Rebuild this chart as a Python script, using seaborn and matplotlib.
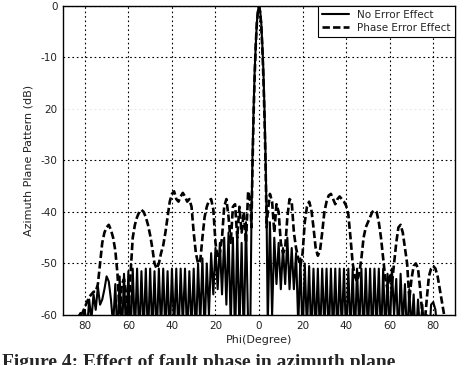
import numpy as np
import pandas as pd
import seaborn as sns
import matplotlib.pyplot as plt

# angle grid: 1 deg steps in the sidelobes, 0.5 deg across the main beam
phi_left = list(range(-90, -4))
phi_beam = [-4, -3.5, -3, -2.5, -2, -1.5, -1, -0.5, 0, 0.5, 1, 1.5, 2, 2.5, 3, 3.5, 4]
phi_right = list(range(5, 91))

# No Error Effect (dB)
no_err_left = [-75, -72, -70, -68, -66, -64, -62, -60.3, -59.6, -61,
               -59, -63, -57, -61, -56, -59, -54.5, -58, -57, -55,
               -52.5, -53.5, -57, -62, -54, -65, -52.5, -65, -52, -65,
               -51.5, -65, -51, -64, -51, -65, -51.5, -64, -51, -65,
               -51, -64, -51.5, -65, -51, -63, -51, -64, -51.5, -65,
               -51, -63, -51, -65, -51, -62, -51, -65, -51.5, -63,
               -51, -65, -50, -62, -49, -64, -50, -60, -48, -56,
               -47, -55, -46, -56, -45, -58, -44, -62, -45, -65,
               -44, -63, -46, -65, -42, -62]
no_err_beam = [-62, -42, -29, -20, -12.5, -7.5, -3.2, -0.9, 0, -0.9,
               -3.2, -7.5, -12.5, -20, -29, -42, -62]
no_err_right = [-42, -60, -45, -54, -46, -55, -47, -54, -45, -55,
                -47, -55, -48, -62, -49, -65, -50, -63, -50.5, -65,
                -51, -64, -51, -65, -51, -63, -51, -65, -51, -64,
                -51, -65, -51, -63, -51, -65, -51, -64, -51, -65,
                -51, -63, -51, -65, -51, -64, -51, -65, -51, -63,
                -51, -65, -51, -64, -52, -65, -51, -60, -53, -65,
                -52, -62, -54, -65, -55, -63, -56, -65, -57, -64,
                -58, -65, -60, -66, -58, -57.5, -59, -64, -66, -68,
                -70, -72, -74, -75, -76, -78]

# Phase Error Effect (dB)
ph_err_left = [-75, -72, -70, -68, -66, -64, -62, -61, -60, -59.5,
               -58.5, -57.5, -56.5, -56, -55.5, -55.5, -54, -50, -46, -44,
               -43, -42.5, -43.5, -45, -47.5, -52, -60, -54, -53, -56,
               -60, -52, -45, -42.5, -41, -40, -39.6, -40, -41, -42.5,
               -44.5, -47, -50, -51, -50, -48, -46.5, -44, -41, -38,
               -36.5, -36, -37.5, -38, -37, -36.3, -37, -38, -37.5, -39,
               -44, -48, -50, -49.5, -45, -41, -39, -37.8, -37.5, -39.5,
               -46, -49, -48, -45, -39, -37.5, -41, -46, -39, -38.5,
               -45, -39, -44, -40, -46, -36]
ph_err_beam = [-38, -43, -31, -21, -13.5, -7.5, -3.3, -1, -0.2, -1.2,
               -3.6, -8, -14, -21.5, -31, -43, -40]
ph_err_right = [-36.5, -38, -44, -38.5, -40, -46, -48, -47, -41, -37.5,
                -38, -44, -47, -49, -50.5, -48, -42, -39, -38, -39.5,
                -43, -47, -48.5, -47.5, -44, -40, -38, -36.8, -36.5, -37.5,
                -38.5, -37.5, -37, -37.5, -38, -38.8, -40.5, -45, -50, -52.5,
                -53.5, -52, -49, -45, -43, -42, -41, -40, -39.7, -40,
                -42, -45, -49, -53, -55, -52, -54, -50, -46, -43,
                -42.5, -44, -47, -50, -57, -53, -50.5, -50, -51, -55,
                -60, -62, -57, -52.5, -51, -50.5, -51, -52.5, -55, -57.5,
                -60, -62, -64, -66, -68, -70]

phi = phi_left + phi_beam + phi_right
df = pd.DataFrame({
    "phi": phi,
    "no_err": no_err_left + no_err_beam + no_err_right,
    "ph_err": ph_err_left + ph_err_beam + ph_err_right,
})

xticks = [-80, -60, -40, -20, 0, 20, 40, 60, 80]
xlabels = ["80", "60", "40", "20", "0", "20", "40", "60", "80"]
yticks = [0, -10, -20, -30, -40, -50, -60]
ylabels = ["0", "-10", "20", "-30", "-40", "-50", "-60"]

sns.set_style("white")
plt.rcParams["font.family"] = ["DejaVu Sans"]

fig = plt.figure(figsize=(4.74, 3.65), dpi=100)
ax = fig.add_axes([0.133, 0.137, 0.827, 0.847])

sns.lineplot(data=df, x="phi", y="no_err", ax=ax, color="black", lw=1.5,
             label="No Error Effect", sort=False)
sns.lineplot(data=df, x="phi", y="ph_err", ax=ax, color="black", lw=1.9,
             label="Phase Error Effect", sort=False)
ax.lines[1].set_dashes([2.8, 1.2])

ax.set_xlim(-90, 90)
ax.set_ylim(-60, 0)
ax.set_xticks(xticks)
ax.set_xticklabels(xlabels)
ax.set_yticks(yticks)
ax.set_yticklabels(ylabels)
ax.tick_params(labelsize=7.5, length=0, pad=4, colors="#222222")
ax.grid(True, color="black", lw=0.8, linestyle=(0, (1.5, 2.5)))
ax.yaxis.get_gridlines()[2].set_color("#e6e6e6")
ax.set_axisbelow(True)
for s in ax.spines.values():
    s.set_color("black")
    s.set_linewidth(1.0)

ax.set_xlabel("Phi(Degree)", fontsize=8, color="#222222", labelpad=3)
ax.set_ylabel("Azimuth Plane Pattern (dB)", fontsize=8, color="#222222", labelpad=5)

leg = ax.legend(loc="upper right", borderaxespad=0, fancybox=False,
                edgecolor="black", fontsize=7.5, handlelength=2.6,
                framealpha=1, borderpad=0.4, labelspacing=0.3)
leg.get_frame().set_linewidth(0.8)
leg.get_lines()[1].set_dashes([2.8, 1.2])

# caption under the chart, cut by the lower edge as in the source scan
fig.text(0.005, 0.03, "Figure 4: Effect of fault phase in azimuth plane",
         fontsize=14, fontweight="bold", family="Liberation Serif", va="top")

fig.savefig("out.png", dpi=100)
